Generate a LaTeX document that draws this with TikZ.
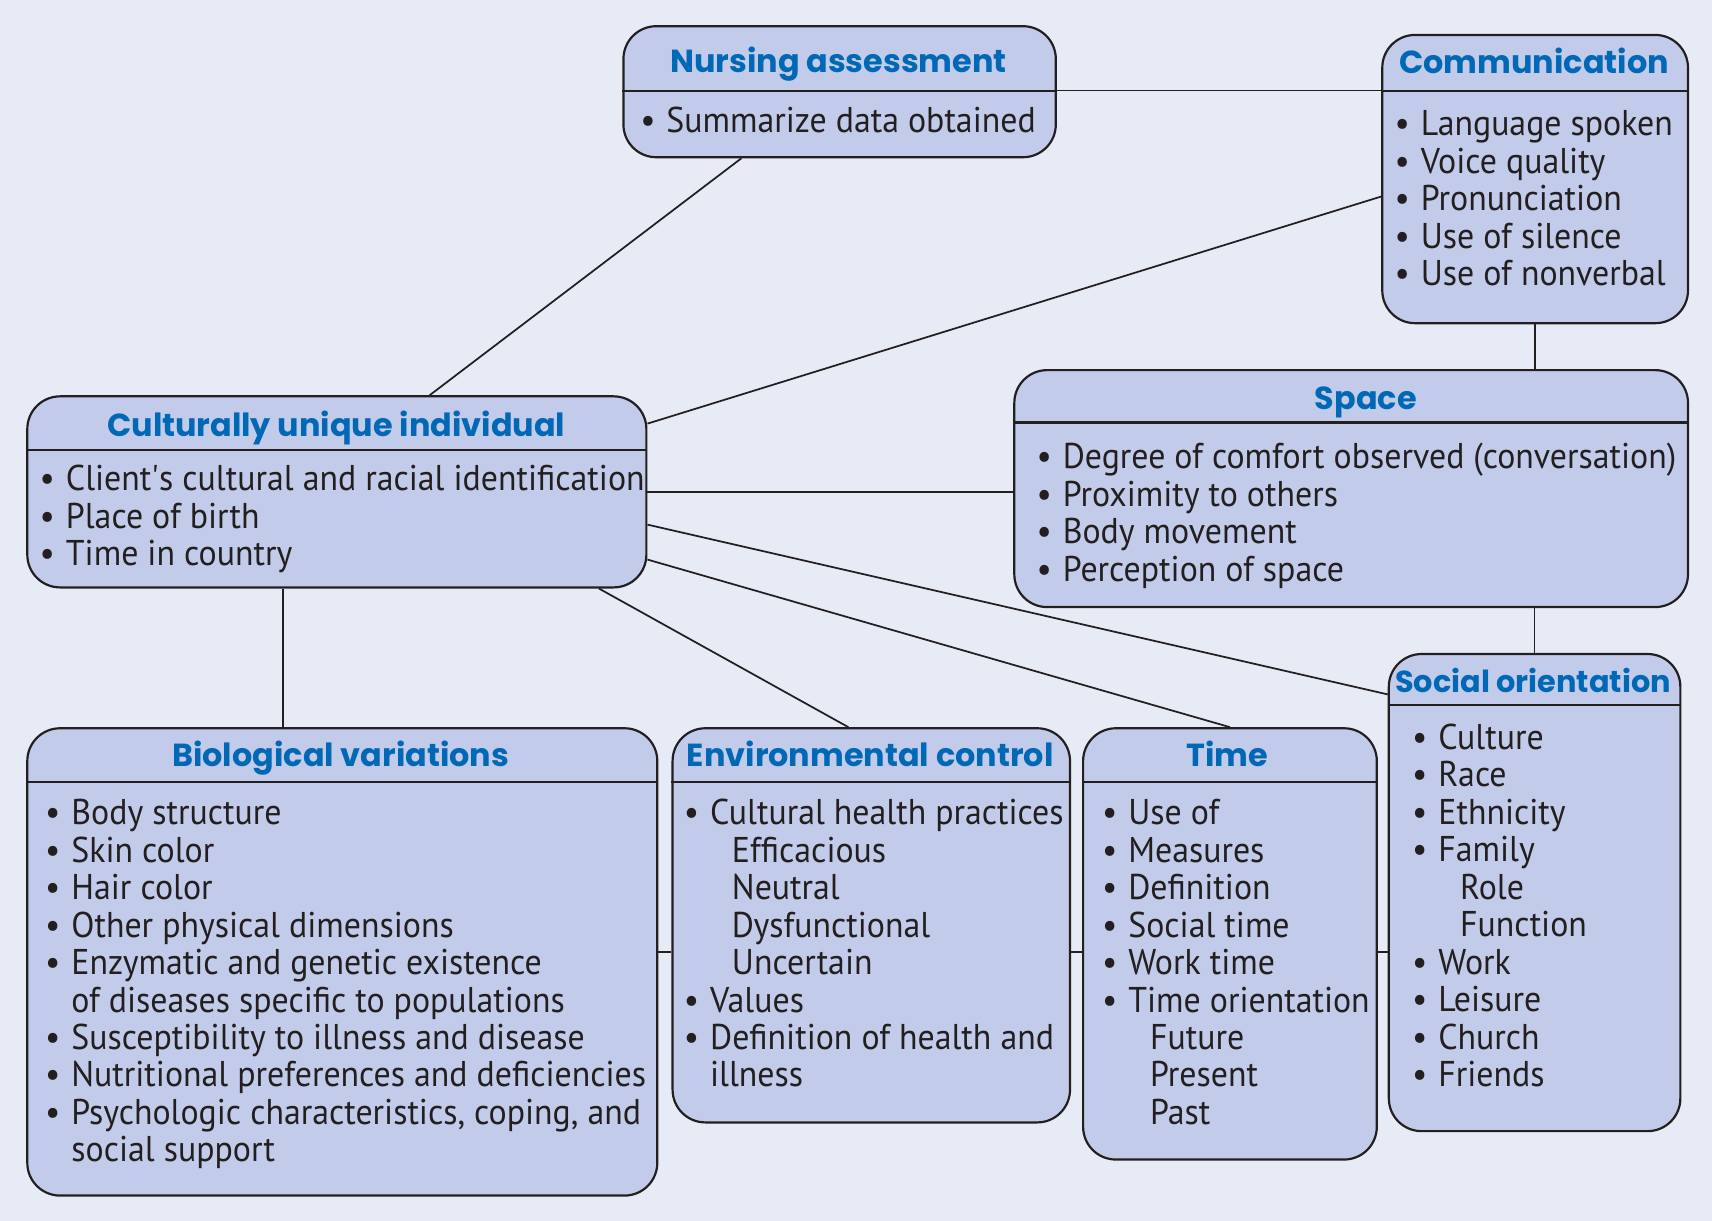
\documentclass[tikz,border=0pt]{standalone}
\usepackage{fontspec}
\setmainfont{PT Sans}[FakeStretch=0.945]
\newfontfamily\headfont{Poppins}
\usetikzlibrary{calc,positioning}
\definecolor{bgc}{RGB}{231,235,246}
\definecolor{boxfill}{RGB}{194,204,234}
\definecolor{linec}{RGB}{35,31,32}
\definecolor{headblue}{RGB}{0,104,180}
\newcommand\bul{\makebox[12pt][l]{\textbullet}}
\newcommand\sub{\hspace*{22pt}}
\newcommand\cnt{\hspace*{12pt}}
\newcommand\tp{\rule{0pt}{14pt}}
\tikzset{
  box/.style={draw=linec, line width=1pt, fill=boxfill, rounded corners=15pt, anchor=north west, inner sep=0pt},
  head/.style={anchor=base, text=headblue, inner sep=0pt, font=\headfont\bfseries\fontsize{14.6}{16}\selectfont},
  items/.style={anchor=north west, align=left, inner sep=0pt, text=linec, font=\fontsize{16.4}{17.15}\selectfont},
  divide/.style={draw=linec, line width=1pt},
  link/.style={draw=linec, line width=0.8pt}
}
\begin{document}
\begin{tikzpicture}[x=0.5pt,y=-0.5pt]
\fill[bgc] (0,0) rectangle (1568,1118);
\useasboundingbox (0,0) rectangle (1568,1118);
%
\node[box, minimum width=198pt, minimum height=60pt] (nurs) at (570,23) {};
\draw[divide] (nurs.west |- 0,83) -- (nurs.east |- 0,83);
\node[head] (nurs-t) at (768,66) {Nursing assessment};
\node[items] (nurs-b) at (586,93) {\tp\bul Summarize data obtained};
%
\node[box, minimum width=140pt, minimum height=132pt] (comm) at (1265,31) {};
\draw[divide] (comm.west |- 0,83) -- (comm.east |- 0,83);
\node[head] (comm-t) at (1405,67) {Communication};
\node[items] (comm-b) at (1277,96) {\tp\bul Language spoken\\ \bul Voice quality\\ \bul Pronunciation\\ \bul Use of silence\\ \bul Use of nonverbal};
%
\node[box, minimum width=308.5pt, minimum height=108.5pt] (space) at (928,338) {};
\draw[divide] (space.west |- 0,387) -- (space.east |- 0,387);
\node[head] (space-t) at (1251,375) {Space};
\node[items] (space-b) at (949,401) {\tp\bul Degree of comfort observed (conversation)\\ \bul Proximity to others\\ \bul Body movement\\ \bul Perception of space};
%
\node[box, minimum width=283.5pt, minimum height=87.5pt] (cui) at (24,362) {};
\draw[divide] (cui.west |- 0,412) -- (cui.east |- 0,412);
\node[head] (cui-t) at (308,400) {Culturally unique individual};
\node[items] (cui-b) at (36,421) {\tp\bul Client\textquotesingle s cultural and racial identification\\ \bul Place of birth\\ \bul Time in country};
%
\node[box, minimum width=133.5pt, minimum height=218.5pt] (soc) at (1271,598) {};
\draw[divide] (soc.west |- 0,646) -- (soc.east |- 0,646);
\node[head, font=\headfont\bfseries\fontsize{13.9}{16}\selectfont] (soc-t) at (1404,634) {Social orientation};
\node[items] (soc-b) at (1293,658) {\tp\bul Culture\\ \bul Race\\ \bul Ethnicity\\ \bul Family\\ \sub Role\\ \sub Function\\ \bul Work\\ \bul Leisure\\ \bul Church\\ \bul Friends};
%
\node[box, minimum width=288.5pt, minimum height=214pt] (bio) at (24,666) {};
\draw[divide] (bio.west |- 0,716) -- (bio.east |- 0,716);
\node[head] (bio-t) at (312,702) {Biological variations};
\node[items] (bio-b) at (41,727) {\tp\bul Body structure\\ \bul Skin color\\ \bul Hair color\\ \bul Other physical dimensions\\ \bul Enzymatic and genetic existence\\ \cnt of diseases specific to populations\\ \bul Susceptibility to illness and disease\\ \bul Nutritional preferences and deficiencies\\ \bul Psychologic characteristics, coping, and\\ \cnt social support};
%
\node[box, minimum width=182pt, minimum height=180.5pt] (env) at (615,666) {};
\draw[divide] (env.west |- 0,716) -- (env.east |- 0,716);
\node[head] (env-t) at (797,702) {Environmental control};
\node[items] (env-b) at (626,727) {\tp\bul Cultural health practices\\ \sub Efficacious\\ \sub Neutral\\ \sub Dysfunctional\\ \sub Uncertain\\ \bul Values\\ \bul Definition of health and\\ \cnt illness};
%
\node[box, minimum width=134.5pt, minimum height=197.5pt] (time) at (991,666) {};
\draw[divide] (time.west |- 0,716) -- (time.east |- 0,716);
\node[head] (time-t) at (1124,702) {Time};
\node[items] (time-b) at (1009,727) {\tp\bul Use of\\ \bul Measures\\ \bul Definition\\ \bul Social time\\ \bul Work time\\ \bul Time orientation\\ \sub Future\\ \sub Present\\ \sub Past};
%
% connectors
\draw[link] (nurs.east |- 0,83) -- (comm.west |- 0,83);
\draw[link] (comm.south) -- (comm.south |- space.north);
\draw[link] (soc.north) -- (soc.north |- space.south);
\draw[link] ($(cui.north)+(85,0)$) -- ($(nurs.south)+(-90,0)$);
\draw[link] ($(cui.north east)+(0,26)$) -- ($(comm.west)+(0,16)$);
\draw[link] (cui.east) -- (cui.east -| space.west);
\draw[link] ($(cui.east)+(0,30)$) -- ($(soc.north west)+(0,38)$);
\draw[link] ($(cui.east)+(0,62)$) -- (time.north);
\draw[link] ($(cui.south)+(240,0)$) -- ($(env.north)+(-21,0)$);
\draw[link] ($(cui.south)+(-49.5,0)$) coordinate (cb) -- (cb |- bio.north);
\draw[link] (bio.east |- 0,872) -- (env.west |- 0,872);
\draw[link] (env.east |- 0,872) -- (time.west |- 0,872);
\draw[link] (time.east |- 0,872) -- (soc.west |- 0,872);
\end{tikzpicture}
\end{document}
